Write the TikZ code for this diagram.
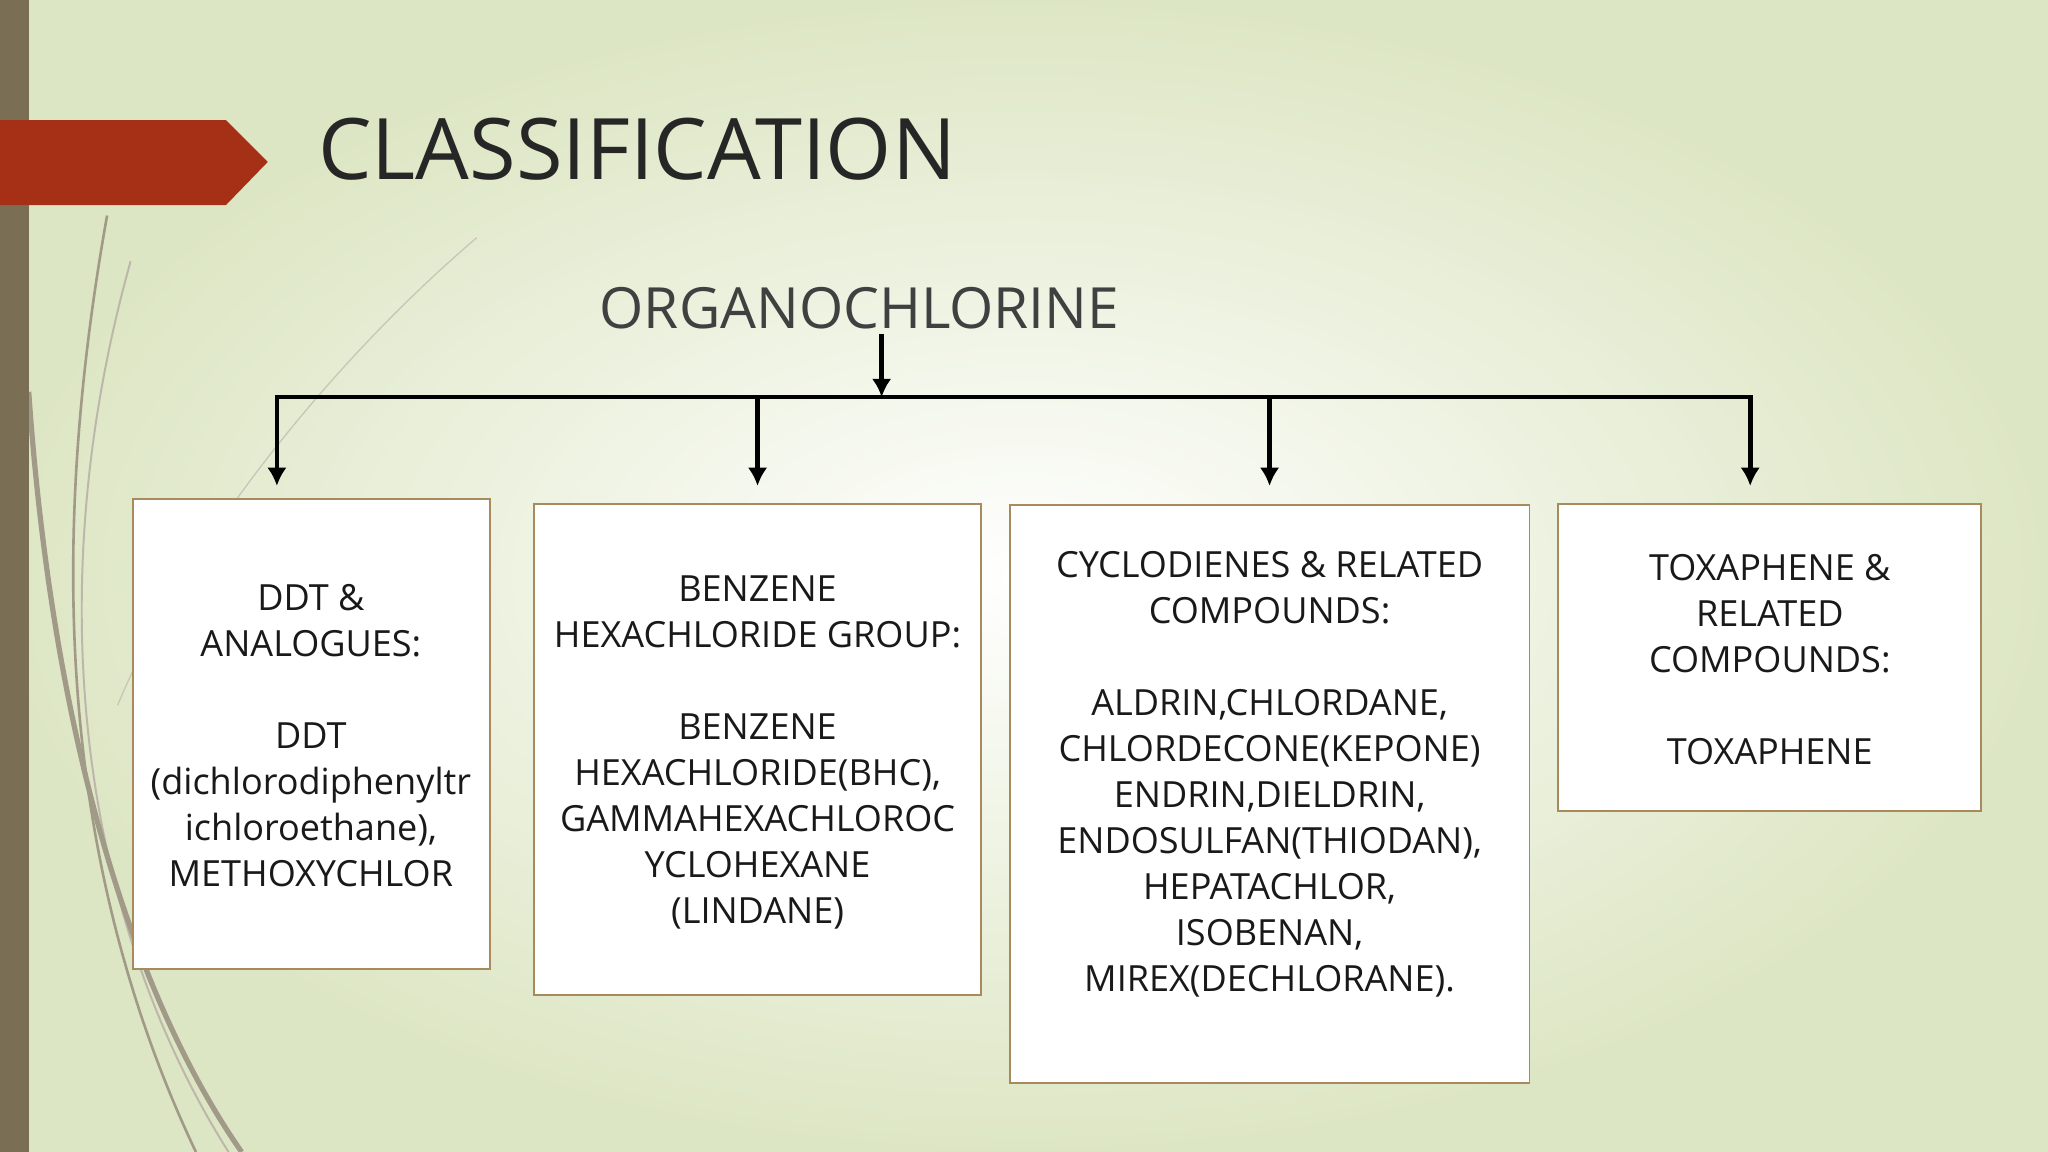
\documentclass[tikz,border=0pt]{standalone}
\usepackage{fontspec}
\setmainfont{Open Sans}
\begin{document}
\begin{tikzpicture}[x=1pt,y=-1pt,
  box/.style={draw=boxc,fill=white,line width=1.5pt},
  btext/.style={align=center,font=\fontsize{27.6}{35.2}\selectfont,text=black!90},
  conn/.style={line width=3.5pt,black},
  arr/.style={conn,-{Latex[length=14pt,width=15pt]}}]
\usetikzlibrary{arrows.meta}
\definecolor{boxc}{HTML}{A88A5C}
\definecolor{bgout}{HTML}{DDE6C4}
\definecolor{bar}{HTML}{7A6F55}
\definecolor{redc}{HTML}{A53016}
\useasboundingbox (0,0) rectangle (1568,882);
\shade[inner color=white,outer color=bgout] (0,0) rectangle (1568,882);
% decorative curves
\draw[bar!70,line width=2pt] (82,165) .. controls (40,400) and (40,650) .. (150,882);
\draw[bar!50,line width=1.5pt] (100,200) .. controls (30,450) and (60,700) .. (175,882);
\draw[bar!70,line width=4pt] (22,300) .. controls (40,560) and (100,760) .. (185,882);
\draw[bar!40,line width=1pt] (365,182) .. controls (250,280) and (140,420) .. (90,540);
\fill[bar] (0,0) rectangle (22,882);
\fill[redc] (0,92) -- (173,92) -- (205,124) -- (173,157) -- (0,157) -- cycle;
\node[anchor=west,font=\fontsize{65}{78}\selectfont,text=black!85] (title) at (240,114) {CLASSIFICATION};
\node[font=\fontsize{43.5}{52}\selectfont,text=black!75] (org) at (658,236) {ORGANOCHLORINE};
% boxes
\draw[box] (102,382) rectangle (375,742);
\draw[box] (409,386) rectangle (751,762);
\draw[box] (773,387) rectangle (1171,829);
\draw[box] (1193,386) rectangle (1517,621);
\node[btext] (b1) at (238,563) {DDT \&\\ANALOGUES:\\[35.2pt]DDT\\(dichlorodiphenyltr\\ichloroethane),\\METHOXYCHLOR};
\node[btext] (b2) at (580,576) {BENZENE\\HEXACHLORIDE GROUP:\\[35.2pt]BENZENE\\HEXACHLORIDE(BHC),\\GAMMAHEXACHLOROC\\YCLOHEXANE\\(LINDANE)};
\node[btext] (b3) at (972,593) {CYCLODIENES \& RELATED\\COMPOUNDS:\\[35.2pt]ALDRIN,CHLORDANE,\\CHLORDECONE(KEPONE)\\ENDRIN,DIELDRIN,\\ENDOSULFAN(THIODAN),\\HEPATACHLOR,\\ISOBENAN,\\MIREX(DECHLORANE).};
\node[btext] (b4) at (1355,505) {TOXAPHENE \&\\RELATED\\COMPOUNDS:\\[35.2pt]TOXAPHENE};
% connectors
\coordinate (s) at (675,256);
\coordinate (j) at (675,304);
\coordinate (h1) at (212,304); \coordinate (h2) at (580,304);
\coordinate (h3) at (972,304); \coordinate (h4) at (1340,304);
\coordinate (e1) at (212,372); \coordinate (e2) at (580,372);
\coordinate (e3) at (972,372); \coordinate (e4) at (1340,372);
\draw[arr] (s) -- (j);
\draw[conn] ([xshift=-1.75pt]h1) -- ([xshift=1.75pt]h4);
\foreach \i in {1,...,4} \draw[arr] (h\i) -- (e\i);
\end{tikzpicture}
\end{document}
